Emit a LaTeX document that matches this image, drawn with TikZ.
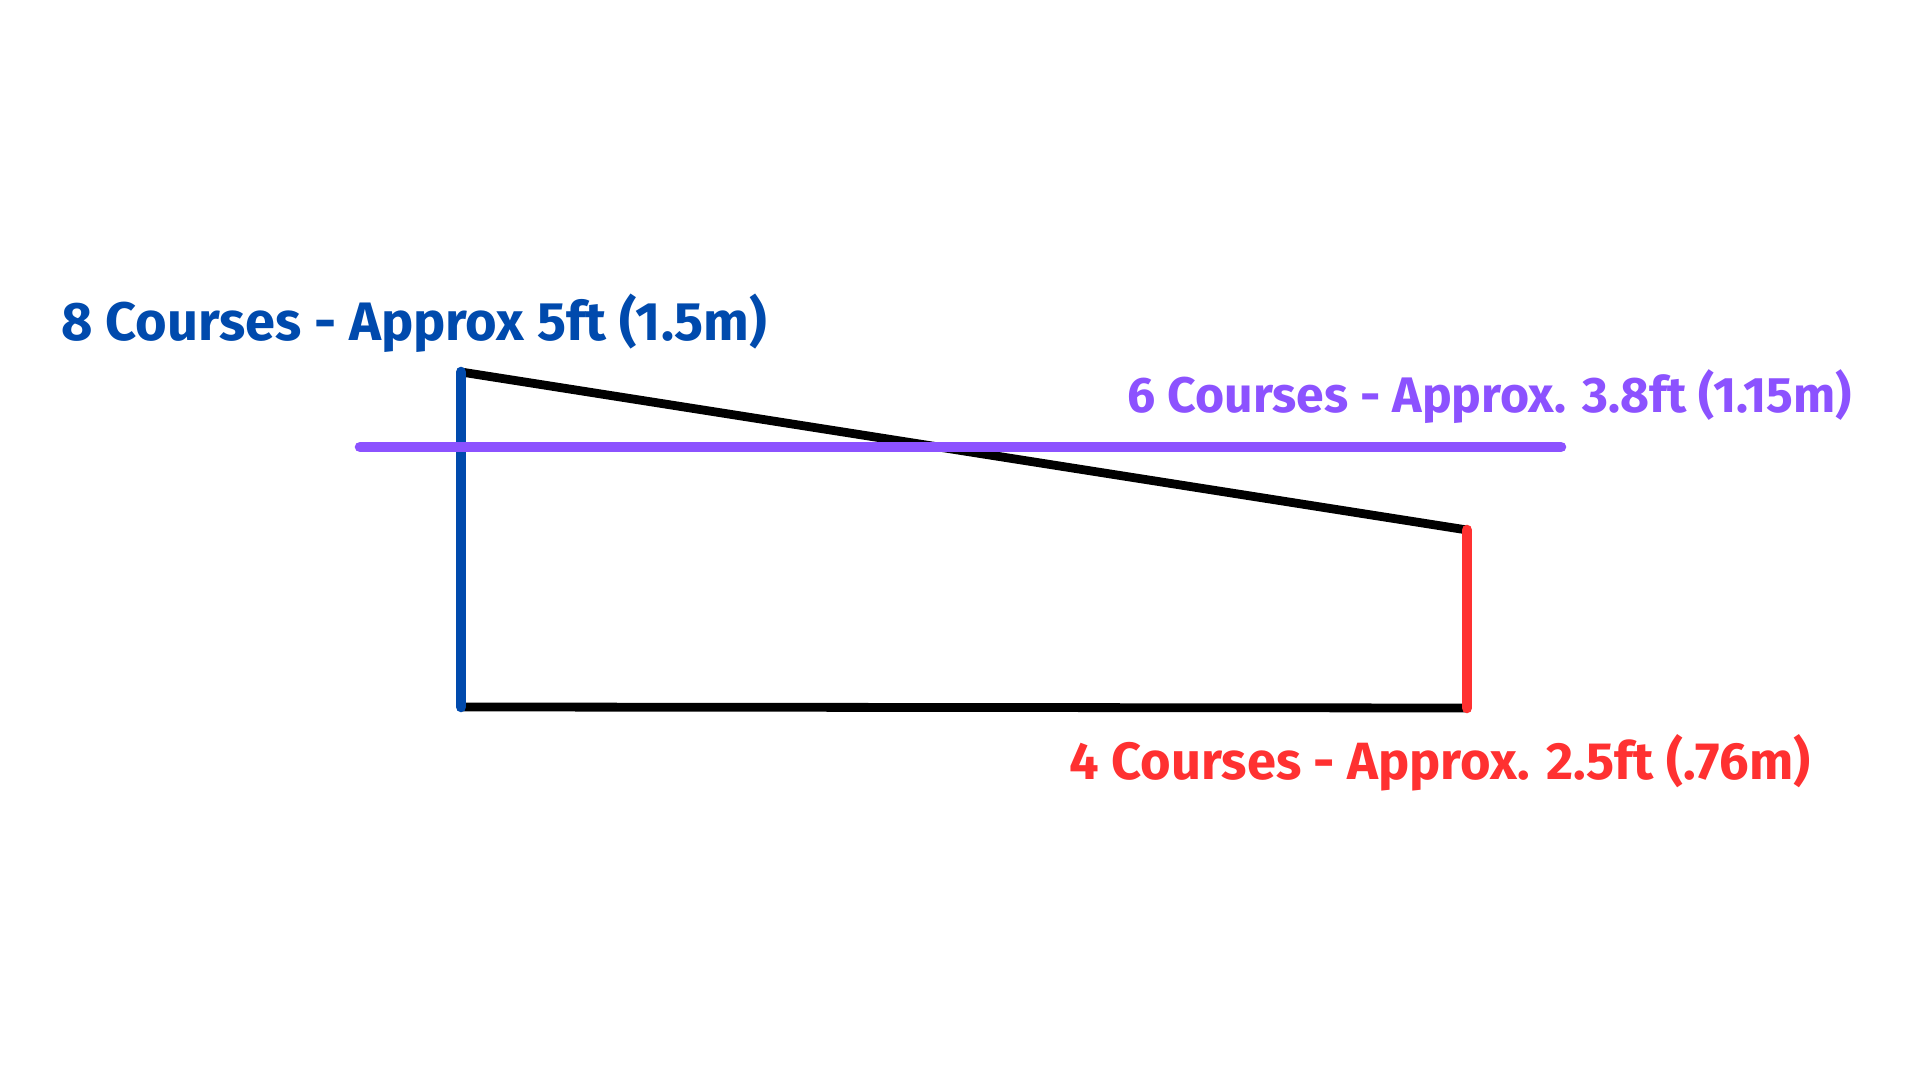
\documentclass[tikz,border=0pt]{standalone}
\usepackage{fontspec}
\setmainfont{Fira Sans}
\usepackage{tikz}
\usetikzlibrary{positioning}

\definecolor{wallblue}{HTML}{004AAD}
\definecolor{wallpurple}{HTML}{8C52FF}
\definecolor{wallred}{HTML}{FF3131}

\tikzset{
    wall/.style={line width=2.5pt,line cap=round},
    side/.style={line width=3pt,line cap=round},
    tag/.style={font=\bfseries,inner sep=0pt}
}

\begin{document}
\begin{tikzpicture}[x=0.01cm,y=-0.01cm]
    \useasboundingbox (0,0) rectangle (1920,1080);

    \coordinate (tl) at (461,372);
    \coordinate (bl) at (461,707);
    \coordinate (tr) at (1467,530);
    \coordinate (br) at (1467,708);
    \coordinate (pl) at (360,447);
    \coordinate (pr) at (1561,447);

    \node[tag,text=wallblue]   (eight) at (414,323)  {\fontsize{15.4}{17}\selectfont 8 Courses - Approx 5ft (1.5m)};
    \node[tag,text=wallpurple] (six)   at (1490,397) {\fontsize{14.2}{16}\selectfont 6 Courses - Approx. 3.8ft (1.15m)};
    \node[tag,text=wallred]    (four)  at (1440,763) {\fontsize{14.9}{16}\selectfont 4 Courses - Approx. 2.5ft (.76m)};

    \path[wall] (tl) edge (tr)
                (bl) edge (br)
                ;
    \draw[side,wallblue]   (tl) -- (bl);
    \draw[side,wallred]    (tr) -- (br);
    \draw[side,wallpurple] (pl) -- (pr);
\end{tikzpicture}
\end{document}
